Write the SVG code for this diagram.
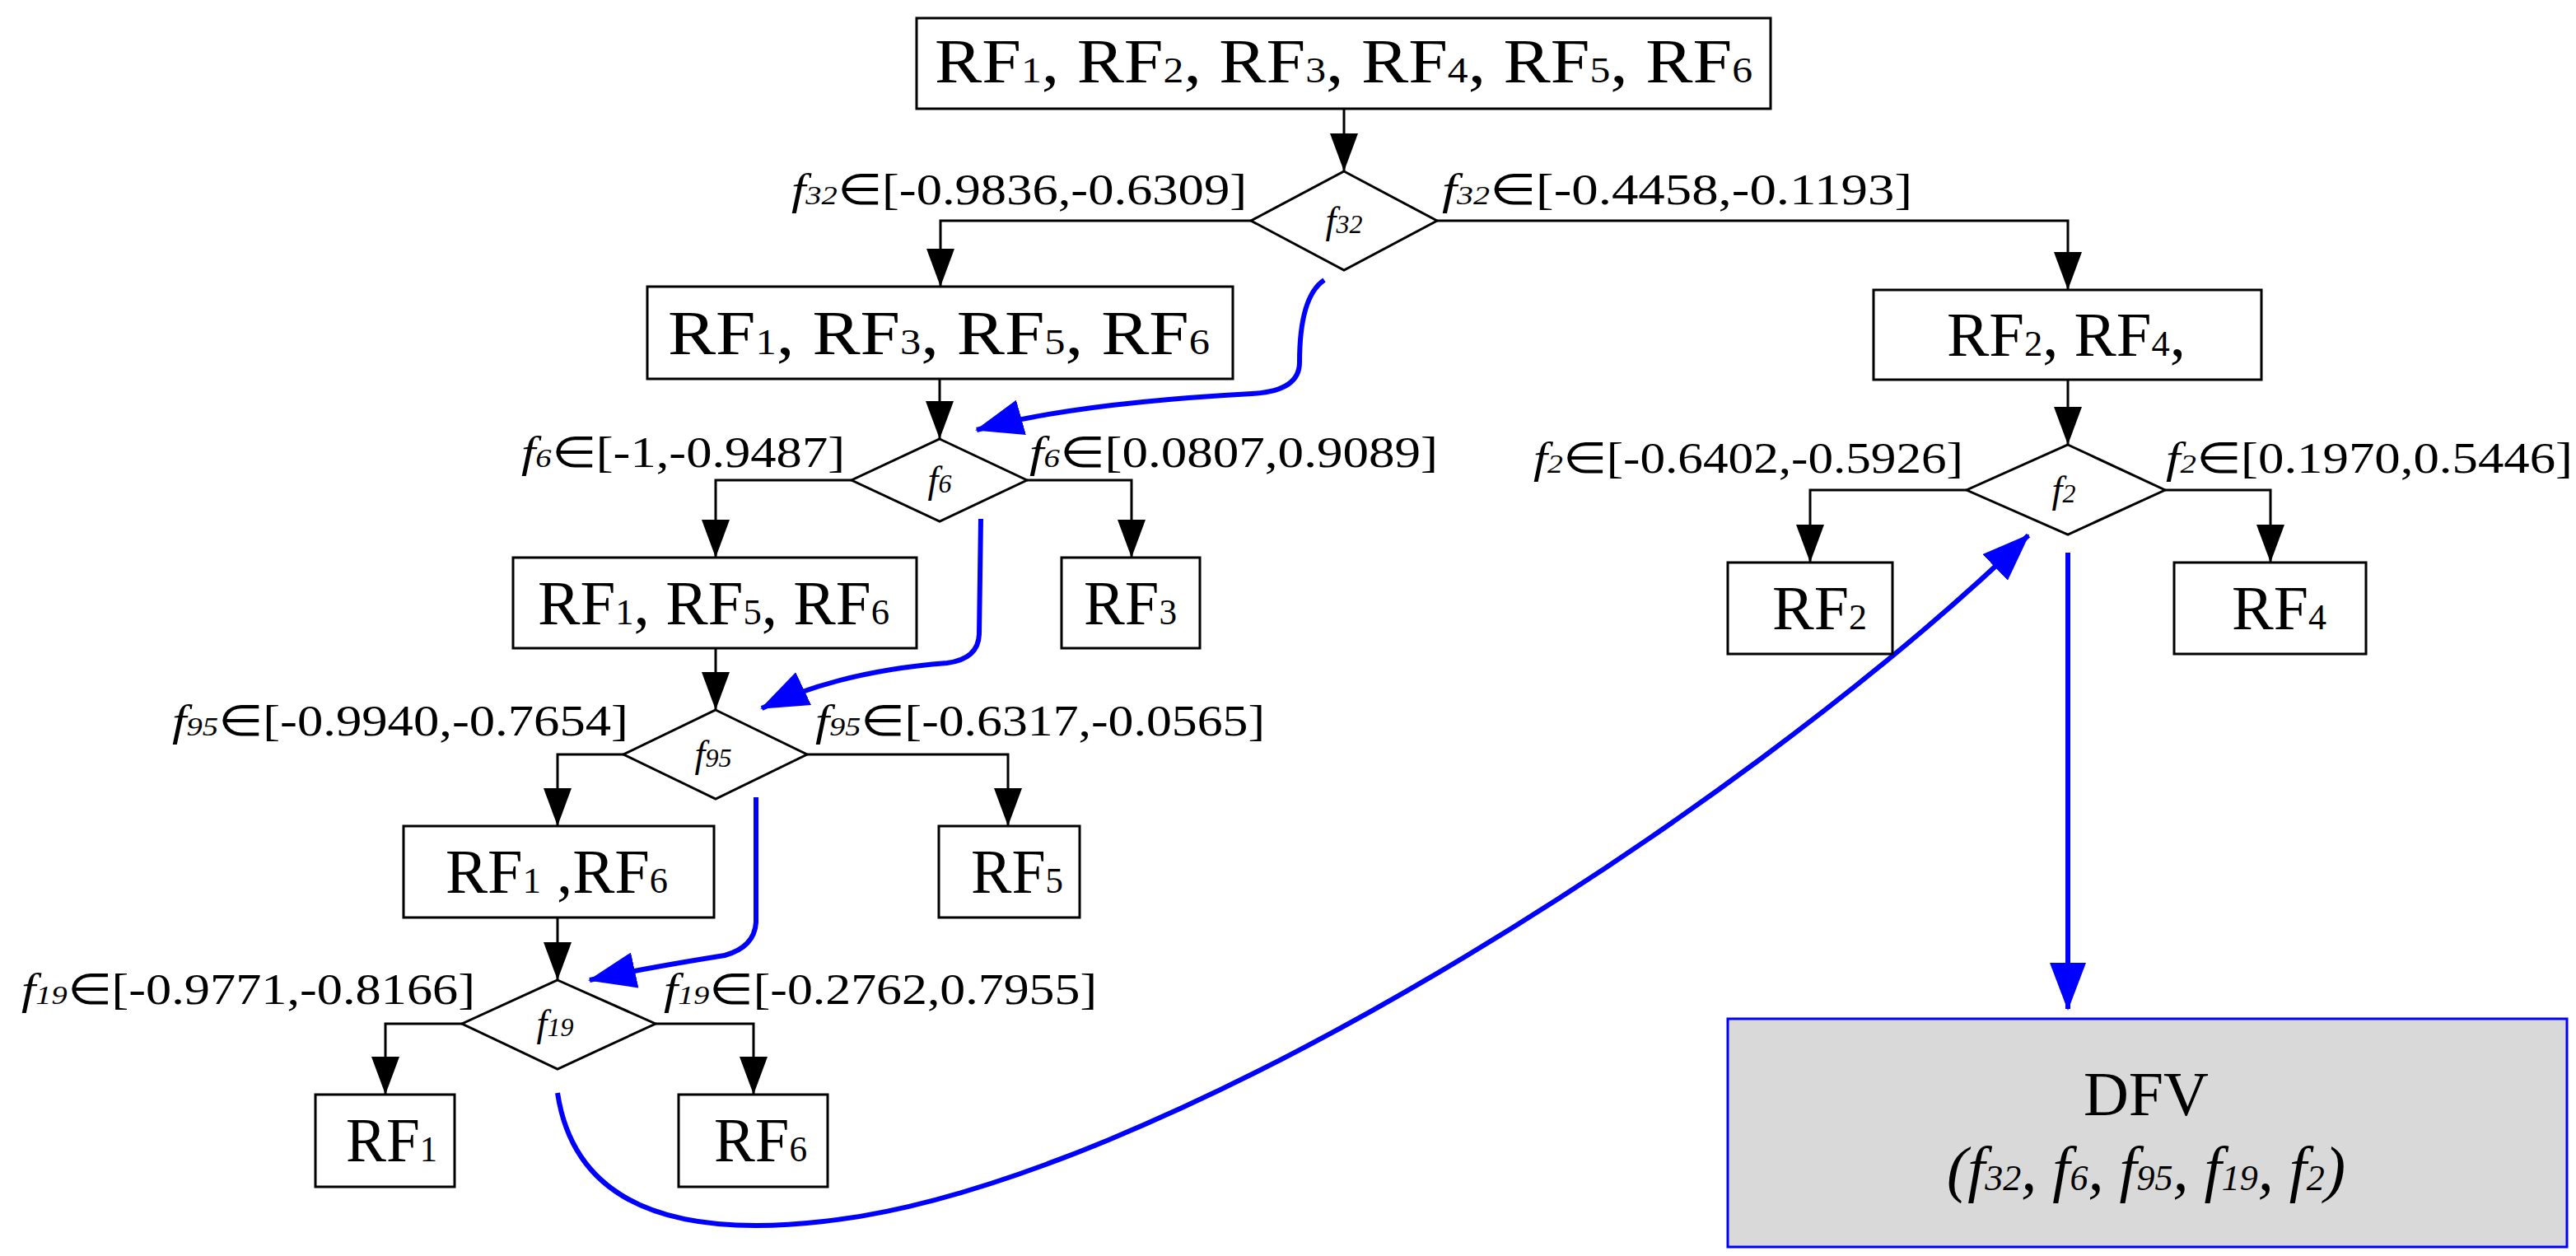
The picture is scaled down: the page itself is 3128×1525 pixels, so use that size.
<svg xmlns="http://www.w3.org/2000/svg" width="3128" height="1525" viewBox="0 0 3128 1525">
<style>
.box{fill:#fff;stroke:#000;stroke-width:3}
.dia{fill:#fff;stroke:#000;stroke-width:3}
.bt{font-family:"Liberation Serif",serif;font-size:76px;fill:#000}
.lb{font-family:"Liberation Serif",serif;font-size:52px;fill:#000}
.dt{font-family:"Liberation Serif",serif;font-size:46px;font-style:italic;fill:#000}
.s{font-size:44px}
.ls{font-size:32px;font-style:italic}
.it{font-style:italic}
.k{fill:none;stroke:#000;stroke-width:3;marker-end:url(#ah)}
.b{fill:none;stroke:#0000ff;stroke-width:6;marker-end:url(#bh)}
</style>
<defs>
<marker id="ah" markerUnits="userSpaceOnUse" viewBox="0 0 46 34" markerWidth="46" markerHeight="34" refX="46" refY="17" orient="auto"><path d="M0,0 L46,17 L0,34 z" fill="#000"/></marker>
<marker id="bh" markerUnits="userSpaceOnUse" viewBox="0 0 58 44" markerWidth="58" markerHeight="44" refX="56" refY="22" orient="auto"><path d="M0,0 L58,22 L0,44 z" fill="#0000ff"/></marker>
</defs>
<rect width="3128" height="1525" fill="#fff"/>
<g id="connectors">
<path class="k" d="M1632,132 V208"/>
<path class="k" d="M1519,268 H1142 V348"/>
<path class="k" d="M1745,268 H2511 V352"/>
<path class="k" d="M1141,460 V533"/>
<path class="k" d="M1034,583 H869 V677"/>
<path class="k" d="M1247,583 H1374 V677"/>
<path class="k" d="M869,787 V862"/>
<path class="k" d="M757,916 H677 V1003"/>
<path class="k" d="M980,916 H1224 V1003"/>
<path class="k" d="M677,1114 V1190"/>
<path class="k" d="M561,1243 H468 V1329"/>
<path class="k" d="M796,1243 H915 V1329"/>
<path class="k" d="M2511,461 V540"/>
<path class="k" d="M2388,595 H2198 V683"/>
<path class="k" d="M2629,595 H2757 V683"/>
<path class="b" d="M1608,340 Q1578,360 1578,440 Q1578,475 1520,478 Q1300,490 1186,522"/>
<path class="b" d="M1191,630 L1189,770 Q1188,800 1150,805 Q1020,815 925,860"/>
<path class="b" d="M918,968 L918,1120 Q916,1150 880,1160 Q780,1176 716,1190"/>
<path class="b" d="M677,1327 C700,1480 850,1500 1000,1483 C1400,1440 2100,1000 2463,650"/>
<path class="b" d="M2511,671 V1225"/>
</g>
<g id="n_top"><rect class="box" x="1113" y="22" width="1037" height="110"/>
<text class="bt" x="1135" y="100" textLength="993" lengthAdjust="spacingAndGlyphs">RF<tspan class="s">1</tspan>,  RF<tspan class="s">2</tspan>,  RF<tspan class="s">3</tspan>,  RF<tspan class="s">4</tspan>,  RF<tspan class="s">5</tspan>,  RF<tspan class="s">6</tspan></text></g>
<g id="d_f32"><path class="dia" d="M1632,208 L1745,268 L1632,328 L1519,268 Z"/><text class="dt" x="1632" y="283" text-anchor="middle">f<tspan class="ls">32</tspan></text></g>
<g id="l_f32a"><text class="lb" x="961" y="248" textLength="553" lengthAdjust="spacingAndGlyphs"><tspan class="it">f</tspan><tspan class="ls">32</tspan>∈[-0.9836,-0.6309]</text></g>
<g id="l_f32b"><text class="lb" x="1751" y="248" textLength="571" lengthAdjust="spacingAndGlyphs"><tspan class="it">f</tspan><tspan class="ls">32</tspan>∈[-0.4458,-0.1193]</text></g>
<g id="n_1356"><rect class="box" x="786" y="348" width="711" height="112"/>
<text class="bt" x="811" y="430" textLength="658" lengthAdjust="spacingAndGlyphs">RF<tspan class="s">1</tspan>,  RF<tspan class="s">3</tspan>,   RF<tspan class="s">5</tspan>,  RF<tspan class="s">6</tspan></text></g>
<g id="n_24"><rect class="box" x="2275" y="352" width="471" height="109"/>
<text class="bt" x="2364" y="432" textLength="290" lengthAdjust="spacingAndGlyphs">RF<tspan class="s">2</tspan>, RF<tspan class="s">4</tspan>,</text></g>
<g id="d_f6"><path class="dia" d="M1141,533 L1247,583 L1141,633 L1034,583 Z"/><text class="dt" x="1141" y="598" text-anchor="middle">f<tspan class="ls">6</tspan></text></g>
<g id="l_f6a"><text class="lb" x="633" y="567" textLength="393" lengthAdjust="spacingAndGlyphs"><tspan class="it">f</tspan><tspan class="ls">6</tspan>∈[-1,-0.9487]</text></g>
<g id="l_f6b"><text class="lb" x="1250" y="567" textLength="496" lengthAdjust="spacingAndGlyphs"><tspan class="it">f</tspan><tspan class="ls">6</tspan>∈[0.0807,0.9089]</text></g>
<g id="d_f2"><path class="dia" d="M2511,540 L2629,595 L2511,649 L2388,595 Z"/><text class="dt" x="2506" y="610" text-anchor="middle">f<tspan class="ls">2</tspan></text></g>
<g id="l_f2a"><text class="lb" x="1862" y="574" textLength="522" lengthAdjust="spacingAndGlyphs"><tspan class="it">f</tspan><tspan class="ls">2</tspan>∈[-0.6402,-0.5926]</text></g>
<g id="l_f2b"><text class="lb" x="2630" y="574" textLength="494" lengthAdjust="spacingAndGlyphs"><tspan class="it">f</tspan><tspan class="ls">2</tspan>∈[0.1970,0.5446]</text></g>
<g id="n_156"><rect class="box" x="623" y="677" width="490" height="110"/>
<text class="bt" x="653" y="758" textLength="427" lengthAdjust="spacingAndGlyphs">RF<tspan class="s">1</tspan>, RF<tspan class="s">5</tspan>, RF<tspan class="s">6</tspan></text></g>
<g id="n_3"><rect class="box" x="1289" y="677" width="168" height="110"/>
<text class="bt" x="1316" y="758" textLength="113" lengthAdjust="spacingAndGlyphs">RF<tspan class="s">3</tspan></text></g>
<g id="n_2"><rect class="box" x="2098" y="683" width="200" height="111"/>
<text class="bt" x="2152" y="764" textLength="115" lengthAdjust="spacingAndGlyphs">RF<tspan class="s">2</tspan></text></g>
<g id="n_4"><rect class="box" x="2640" y="683" width="233" height="111"/>
<text class="bt" x="2710" y="764" textLength="115" lengthAdjust="spacingAndGlyphs">RF<tspan class="s">4</tspan></text></g>
<g id="d_f95"><path class="dia" d="M869,862 L980,916 L869,970 L757,916 Z"/><text class="dt" x="866" y="931" text-anchor="middle">f<tspan class="ls">95</tspan></text></g>
<g id="l_f95a"><text class="lb" x="209" y="893" textLength="554" lengthAdjust="spacingAndGlyphs"><tspan class="it">f</tspan><tspan class="ls">95</tspan>∈[-0.9940,-0.7654]</text></g>
<g id="l_f95b"><text class="lb" x="990" y="893" textLength="546" lengthAdjust="spacingAndGlyphs"><tspan class="it">f</tspan><tspan class="ls">95</tspan>∈[-0.6317,-0.0565]</text></g>
<g id="n_16"><rect class="box" x="490" y="1003" width="377" height="111"/>
<text class="bt" x="541" y="1084" textLength="270" lengthAdjust="spacingAndGlyphs">RF<tspan class="s">1</tspan> ,RF<tspan class="s">6</tspan></text></g>
<g id="n_5"><rect class="box" x="1140" y="1003" width="171" height="111"/>
<text class="bt" x="1179" y="1084" textLength="112" lengthAdjust="spacingAndGlyphs">RF<tspan class="s">5</tspan></text></g>
<g id="d_f19"><path class="dia" d="M677,1190 L796,1243 L677,1298 L561,1243 Z"/><text class="dt" x="674" y="1258" text-anchor="middle">f<tspan class="ls">19</tspan></text></g>
<g id="l_f19a"><text class="lb" x="26" y="1219" textLength="551" lengthAdjust="spacingAndGlyphs"><tspan class="it">f</tspan><tspan class="ls">19</tspan>∈[-0.9771,-0.8166]</text></g>
<g id="l_f19b"><text class="lb" x="806" y="1219" textLength="526" lengthAdjust="spacingAndGlyphs"><tspan class="it">f</tspan><tspan class="ls">19</tspan>∈[-0.2762,0.7955]</text></g>
<g id="n_1"><rect class="box" x="383" y="1329" width="169" height="112"/>
<text class="bt" x="420" y="1410" textLength="111" lengthAdjust="spacingAndGlyphs">RF<tspan class="s">1</tspan></text></g>
<g id="n_6"><rect class="box" x="824" y="1329" width="181" height="112"/>
<text class="bt" x="867" y="1410" textLength="113" lengthAdjust="spacingAndGlyphs">RF<tspan class="s">6</tspan></text></g>
<g id="n_dfv"><rect x="2098" y="1237" width="1019" height="277" fill="#d9d9d9" stroke="#0000ff" stroke-width="3"/>
<text class="bt" x="2606" y="1354" text-anchor="middle" font-size="92">DFV</text>
<text class="bt" x="2606" y="1445" text-anchor="middle" font-size="64" font-style="italic">(f<tspan font-size="44">32</tspan>, f<tspan font-size="44">6</tspan>, f<tspan font-size="44">95</tspan>, f<tspan font-size="44">19</tspan>, f<tspan font-size="44">2</tspan>)</text></g>
</svg>
